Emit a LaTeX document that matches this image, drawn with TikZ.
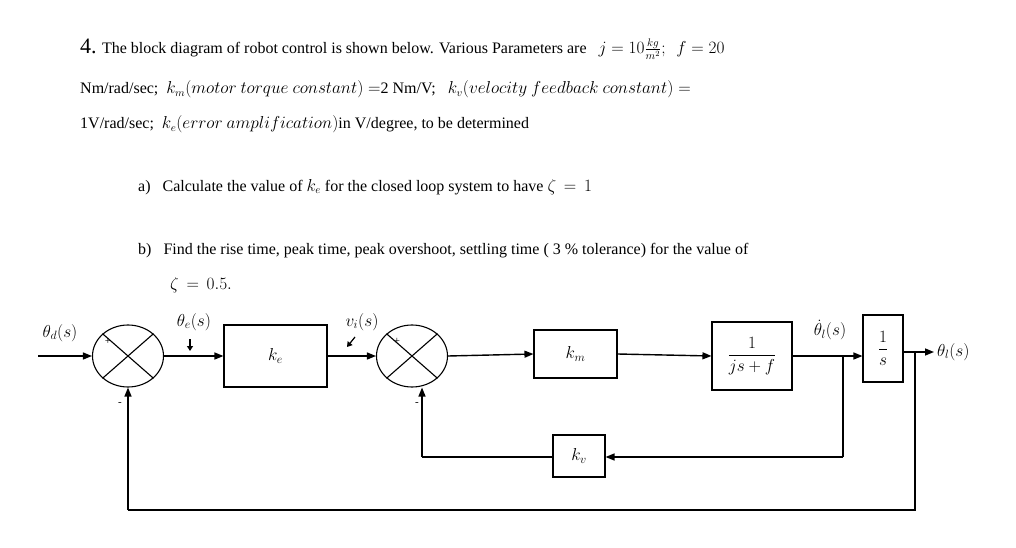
\documentclass[tikz,border=0pt]{standalone}
\usepackage{amsmath}
\usepackage{fontspec}
\setmainfont{Liberation Serif}
\usetikzlibrary{shapes.geometric,arrows.meta}
\begin{document}
\begin{tikzpicture}[x=1pt,y=-1pt,
  blk/.style={draw,line width=1.1pt,minimum width=#1,inner sep=0pt},
  sj/.style={draw,ellipse,line width=1.1pt,minimum width=71pt,minimum height=62pt,inner sep=0pt},
  sig/.style={line width=1.4pt,-{Triangle[length=9pt,width=7pt]}},
  ln/.style={line width=1.1pt},
  txt/.style={anchor=base west,inner sep=0pt,font=\fontsize{16}{19}\selectfont},
  lab/.style={inner sep=0pt,font=\fontsize{17}{20}\selectfont}]
\useasboundingbox (0,0) rectangle (1016,548);
% text
\node[txt] (t1) at (80,54) {{\fontsize{22}{24}\selectfont 4.} The block diagram of robot control is shown below. Various Parameters are \ \ $j=10\frac{kg}{m^2};\ \ f=20$};
\node[txt] (t2) at (80,94) {Nm/rad/sec; \ $k_m(motor\ torque\ constant)=$2 Nm/V; \ \ $k_v(velocity\ feedback\ constant)=$};
\node[txt] (t3) at (80,129) {1V/rad/sec; \ $k_e(error\ amplification)$in V/degree, to be determined};
\node[txt] (t4) at (138,191) {a)\ \ \ Calculate the value of $k_e$ for the closed loop system to have $\zeta\,=\,1$};
\node[txt] (t5) at (138,254) {b)\ \ \ Find the rise time, peak time, peak overshoot, settling time ( 3 \% tolerance) for the value of};
\node[txt] (t6) at (170,289) {$\zeta\,=\,0.5.$};
% blocks
\node[sj] (s1) at (128,356) {};
\draw[ln] (s1.north west)--(s1.south east) (s1.north east)--(s1.south west);
\node[sj] (s2) at (412,356) {};
\draw[ln] (s2.north west)--(s2.south east) (s2.north east)--(s2.south west);
\node[blk=103pt,minimum height=62pt,lab] (ke) at (275.5,356) {$k_e$};
\node[blk=83pt,minimum height=48pt,lab] (km) at (575.5,354) {$k_m$};
\node[blk=80pt,minimum height=68pt,lab] (g) at (752,356) {$\dfrac{1}{js+f}$};
\node[blk=40pt,minimum height=67pt,lab] (i) at (883,348.5) {$\dfrac{1}{s}$};
\node[blk=52pt,minimum height=42pt,lab] (kv) at (579,456) {$k_v$};
\coordinate (in) at (38,356);
\coordinate (out) at (934,352);
\coordinate (tv) at (843,356);
\coordinate (tp) at (915,352);
\coordinate (vb) at (843,457);
\coordinate (vl) at (422,457);
\coordinate (pb) at (915,510);
\coordinate (pl) at (128,510);
% connectors
\draw[sig] (in) -- (s1.west);
\draw[sig] (s1.east) -- (ke.west);
\draw[sig] (ke.east) -- (s2.west);
\draw[sig] (s2.east) -- (km.west);
\draw[sig] (km.east) -- (g.west);
\draw[sig] (g.east) -- (i.west |- tv);
\draw[sig] (i.east |- tp) -- (out);
\draw[ln] (tv) -- (vb);
\draw[sig] (vb) -- (kv.east |- vb);
\draw[ln] (kv.west |- vl) -- (vl);
\draw[sig] (vl) -- (vl |- s2.south);
\draw[ln] (tp) -- (pb) -- (pl);
\draw[sig] (pl) -- (s1.south);
% labels
\node[lab] (ld) at (60,333) {$\theta_d(s)$};
\node[lab] (le) at (194,322) {$\theta_e(s)$};
\node[lab] (lv) at (362,322) {$v_i(s)$};
\node[lab] (ldot) at (830,330) {$\dot\theta_l(s)$};
\node[lab,anchor=west] (lo) at (937,352) {$\theta_l(s)$};
\coordinate (ea) at (190,339); \coordinate (eb) at (190,351);
\draw[line width=1.2pt,-{Triangle[length=5pt,width=6pt]}] (ea) -- (eb);
\coordinate (va) at (355,337); \coordinate (vbb) at (347,347);
\draw[line width=1.2pt,-{Triangle[length=5pt,width=6pt]}] (va) -- (vbb);
\node[font=\fontsize{11}{12}\selectfont] (p1) at (108,341) {+};
\node[font=\fontsize{11}{12}\selectfont] (m1) at (120,404) {-};
\node[font=\fontsize{11}{12}\selectfont] (p2) at (397,341) {+};
\node[font=\fontsize{11}{12}\selectfont] (m2) at (417,404) {-};
\end{tikzpicture}
\end{document}
